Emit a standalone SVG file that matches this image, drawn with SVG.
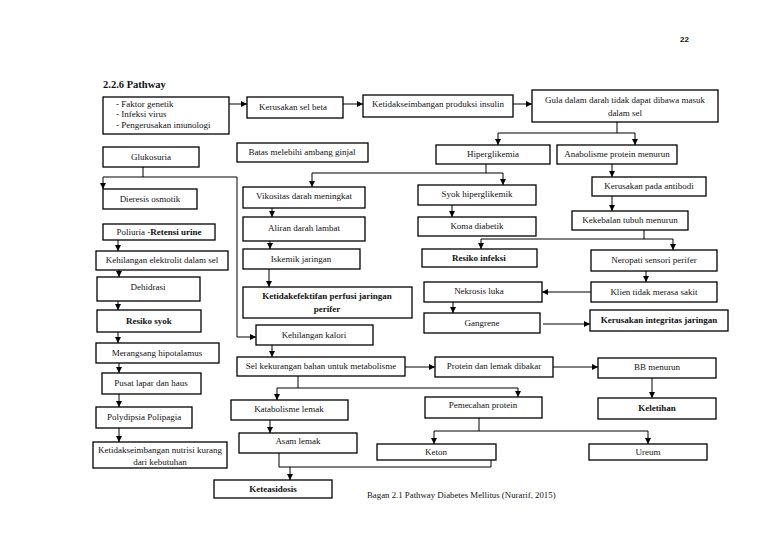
<svg xmlns="http://www.w3.org/2000/svg" width="768" height="543" viewBox="0 0 768 543">
<defs>
<marker id="ah" markerWidth="6" markerHeight="6" refX="6" refY="3" orient="auto" markerUnits="userSpaceOnUse">
<path d="M0,0 L6,3 L0,6 z" fill="#000"/>
</marker>
<style>
.b rect{fill:#fff;stroke:#000;stroke-width:1.3}
text{font-family:"Liberation Serif","Times New Roman",serif;font-size:9px;fill:#111}
.c{text-anchor:middle}
.bd{font-weight:bold}
#connectors path{fill:none;stroke:#000;stroke-width:1}
#connectors .a{marker-end:url(#ah)}
</style>
</defs>
<rect width="768" height="543" fill="#fff"/>
<text x="680" y="42" style="font-family:'Liberation Sans',Arial,sans-serif;font-size:8px;font-weight:bold">22</text>
<text x="103" y="88" class="bd" style="font-size:10.5px">2.2.6  Pathway</text>
<text x="367" y="498" style="font-size:8.8px">Bagan 2.1 Pathway Diabetes Mellitus (Nurarif, 2015)</text>

<g id="connectors">
<path class="a" d="M229,104 H247"/>
<path class="a" d="M343,104 H363"/>
<path class="a" d="M513,104 H532"/>
<path d="M617,122 V133 M498,133 H635"/>
<path class="a" d="M498,133 V145"/>
<path class="a" d="M635,133 V145"/>
<path d="M486,164 V173 M312,173 H503"/>
<path class="a" d="M312,173 V187"/>
<path class="a" d="M503,173 V185"/>
<path class="a" d="M612,164 V177"/>
<path class="a" d="M612,196 V211"/>
<path d="M644,230 V239 M481,239 H673"/>
<path class="a" d="M481,239 V249"/>
<path class="a" d="M673,239 V250"/>
<path class="a" d="M646,271 V282"/>
<path class="a" d="M591,292 H542"/>
<path class="a" d="M453,302 V313"/>
<path class="a" d="M543,324 H590"/>
<path class="a" d="M452,205 V217"/>
<path d="M143,167 V177 M103,177 H237"/>
<path class="a" d="M103,177 V189"/>
<path class="a" d="M237,177 V337 H256"/>
<path class="a" d="M272,208 V217"/>
<path class="a" d="M270,241 V249"/>
<path class="a" d="M269,269 V287"/>
<path class="a" d="M272,345 V357"/>
<path class="a" d="M405,367 H435"/>
<path class="a" d="M553,367 H598"/>
<path class="a" d="M652,378 V398"/>
<path d="M298,376 V388 M277,388 H518"/>
<path class="a" d="M277,388 V400"/>
<path class="a" d="M518,388 V397"/>
<path class="a" d="M270,420 V433"/>
<path d="M479,418 V431 M434,431 H648"/>
<path class="a" d="M434,431 V444"/>
<path class="a" d="M648,431 V444"/>
<path d="M279,453 V467 H491 V460"/>
<path class="a" d="M290,467 V480"/>
<path class="a" d="M118,240 V251"/>
<path class="a" d="M119,270 V277"/>
<path class="a" d="M118,301 V310"/>
<path class="a" d="M118,332 V343"/>
<path class="a" d="M119,363 V373"/>
<path class="a" d="M119,394 V407"/>
<path class="a" d="M119,428 V442"/>
</g>

<g id="faktor" class="b"><rect x="103" y="97" width="126" height="37"/>
<text x="116" y="107">- Faktor genetik</text><text x="116" y="117">- Infeksi  virus</text><text x="116" y="128">- Pengerusakan imunologi</text></g>
<g id="kerusakan-sel-beta" class="b"><rect x="247" y="97" width="96" height="21"/><text x="293" y="110" class="c">Kerusakan sel beta</text></g>
<g id="ketidakseimbangan-insulin" class="b"><rect x="363" y="95" width="150" height="22"/><text x="438" y="107" class="c">Ketidakseimbangan produksi insulin</text></g>
<g id="gula" class="b"><rect x="532" y="90" width="186" height="32"/><text x="625" y="103" class="c">Gula dalam darah tidak dapat dibawa masuk</text><text x="625" y="116" class="c">dalam sel</text></g>
<g id="glukosuria" class="b"><rect x="103" y="147" width="96" height="20"/><text x="151" y="160" class="c">Glukosuria</text></g>
<g id="batas" class="b"><rect x="237" y="143" width="131" height="19"/><text x="302" y="155" class="c">Batas melebihi ambang ginjal</text></g>
<g id="hiperglikemia" class="b"><rect x="436" y="145" width="114" height="19"/><text x="493" y="157" class="c">Hiperglikemia</text></g>
<g id="anabolisme" class="b"><rect x="557" y="145" width="120" height="19"/><text x="617" y="157" class="c">Anabolisme protein menurun</text></g>
<g id="dieresis" class="b"><rect x="103" y="189" width="94" height="20"/><text x="150" y="202" class="c">Dieresis osmotik</text></g>
<g id="vikositas" class="b"><rect x="243" y="187" width="122" height="21"/><text x="304" y="199" class="c">Vikositas darah meningkat</text></g>
<g id="syok" class="b"><rect x="418" y="185" width="118" height="20"/><text x="477" y="197" class="c">Syok hiperglikemik</text></g>
<g id="kerusakan-antibodi" class="b"><rect x="592" y="177" width="114" height="19"/><text x="649" y="189" class="c">Kerusakan pada antibodi</text></g>
<g id="poliuria" class="b"><rect x="103" y="224" width="112" height="16"/><text x="159" y="235" class="c">Poliuria -<tspan class="bd">Retensi urine</tspan></text></g>
<g id="aliran" class="b"><rect x="243" y="217" width="122" height="24"/><text x="304" y="231" class="c">Aliran darah lambat</text></g>
<g id="koma" class="b"><rect x="418" y="217" width="118" height="19"/><text x="477" y="229" class="c">Koma diabetik</text></g>
<g id="kekebalan" class="b"><rect x="572" y="211" width="116" height="19"/><text x="630" y="223" class="c">Kekebalan tubuh menurun</text></g>
<g id="elektrolit" class="b"><rect x="96" y="251" width="132" height="19"/><text x="162" y="263" class="c">Kehilangan elektrolit dalam sel</text></g>
<g id="iskemik" class="b"><rect x="243" y="249" width="117" height="20"/><text x="301" y="262" class="c">Iskemik jaringan</text></g>
<g id="resiko-infeksi" class="b"><rect x="422" y="249" width="115" height="18"/><text x="479" y="261" class="c bd">Resiko infeksi</text></g>
<g id="neropati" class="b"><rect x="591" y="250" width="126" height="21"/><text x="654" y="263" class="c">Neropati sensori perifer</text></g>
<g id="dehidrasi" class="b"><rect x="97" y="277" width="103" height="24"/><text x="148" y="290" class="c">Dehidrasi</text></g>
<g id="ketidakefektifan" class="b"><rect x="243" y="287" width="169" height="31"/><text x="327" y="299" class="c bd">Ketidakefektifan perfusi jaringan</text><text x="327" y="312" class="c bd">perifer</text></g>
<g id="nekrosis" class="b"><rect x="424" y="282" width="118" height="20"/><text x="479" y="294" class="c">Nekrosis luka</text></g>
<g id="klien" class="b"><rect x="591" y="282" width="126" height="20"/><text x="654" y="295" class="c">Klien tidak merasa sakit</text></g>
<g id="resiko-syok" class="b"><rect x="97" y="310" width="104" height="22"/><text x="149" y="324" class="c bd">Resiko syok</text></g>
<g id="gangrene" class="b"><rect x="424" y="313" width="116" height="20"/><text x="482" y="326" class="c">Gangrene</text></g>
<g id="kerusakan-integritas" class="b"><rect x="590" y="310" width="138" height="21"/><text x="659" y="323" class="c bd">Kerusakan integritas jaringan</text></g>
<g id="kehilangan-kalori" class="b"><rect x="256" y="325" width="117" height="20"/><text x="314" y="338" class="c">Kehilangan kalori</text></g>
<g id="merangsang" class="b"><rect x="96" y="343" width="123" height="20"/><text x="157" y="356" class="c">Merangsang hipotalamus</text></g>
<g id="sel-kekurangan" class="b"><rect x="237" y="357" width="168" height="19"/><text x="321" y="369" class="c">Sel kekurangan bahan untuk metabolisme</text></g>
<g id="protein-lemak" class="b"><rect x="435" y="357" width="118" height="20"/><text x="494" y="369" class="c">Protein dan lemak dibakar</text></g>
<g id="bb-menurun" class="b"><rect x="598" y="358" width="118" height="20"/><text x="657" y="370" class="c">BB menurun</text></g>
<g id="pusat" class="b"><rect x="102" y="373" width="99" height="21"/><text x="151" y="386" class="c">Pusat lapar dan haus</text></g>
<g id="katabolisme" class="b"><rect x="231" y="400" width="117" height="20"/><text x="289" y="412" class="c">Katabolisme lemak</text></g>
<g id="pemecahan" class="b"><rect x="425" y="397" width="117" height="21"/><text x="483" y="408" class="c">Pemecahan protein</text></g>
<g id="keletihan" class="b"><rect x="598" y="398" width="118" height="21"/><text x="657" y="411" class="c bd">Keletihan</text></g>
<g id="polydipsia" class="b"><rect x="96" y="407" width="96" height="21"/><text x="144" y="420" class="c">Polydipsia Polipagia</text></g>
<g id="asam-lemak" class="b"><rect x="239" y="433" width="118" height="20"/><text x="298" y="444" class="c">Asam lemak</text></g>
<g id="keton" class="b"><rect x="377" y="444" width="119" height="16"/><text x="436" y="455" class="c">Keton</text></g>
<g id="ureum" class="b"><rect x="589" y="444" width="118" height="16"/><text x="648" y="455" class="c">Ureum</text></g>
<g id="nutrisi" class="b"><rect x="93" y="442" width="134" height="26"/><text x="160" y="453" class="c">Ketidakseimbangan nutrisi kurang</text><text x="160" y="465" class="c">dari kebutuhan</text></g>
<g id="keteasidosis" class="b"><rect x="214" y="480" width="118" height="18"/><text x="273" y="492" class="c bd">Keteasidosis</text></g>
</svg>
